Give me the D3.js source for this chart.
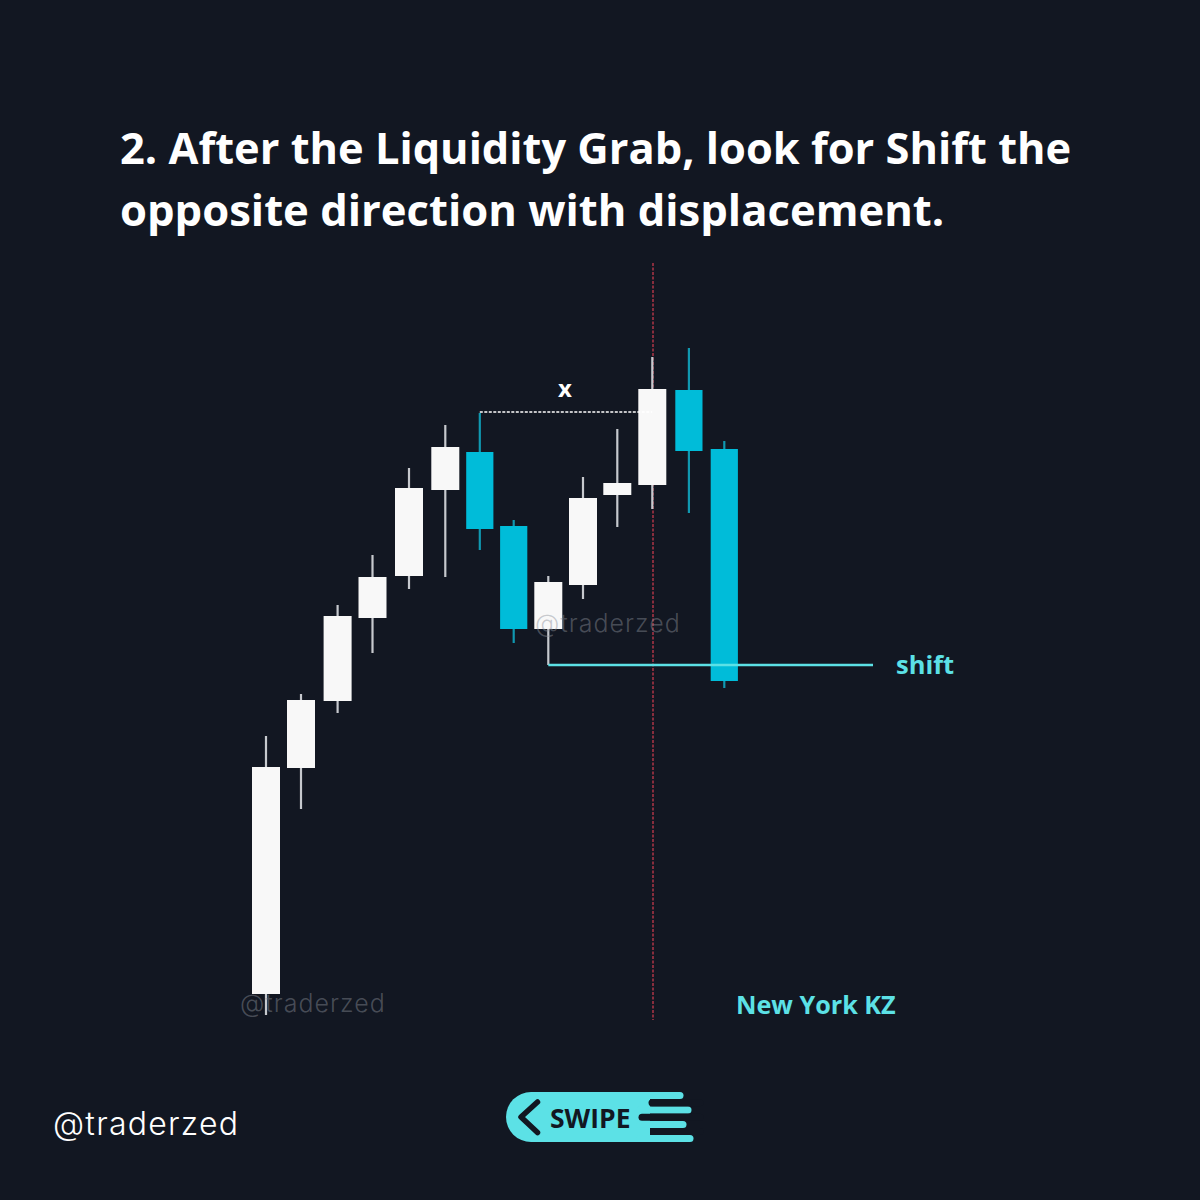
<!DOCTYPE html>
<html>
<head>
<meta charset="utf-8">
<script src="https://cdn.jsdelivr.net/npm/d3@7"></script>
<style>
  html, body { margin: 0; padding: 0; background: #121722; }
  svg { display: block; }
</style>
</head>
<body>
<svg id="chart" width="1200" height="1200"></svg>
<script>
// Candles, price units run upward from the bottom of the chart area
const sessions = [266, 301, 337.6, 372.5, 409, 445.3, 479.8, 513.7, 548.3, 583, 617.3, 652.3, 688.9, 724.3];
const highs  = [284, 326, 415, 465, 552, 595, 607, 500, 444, 543, 591, 663, 672, 579];
const opens  = [26, 252, 319, 402, 444, 530, 568, 494, 391, 435, 525, 535, 630, 571];
const closes = [253, 320, 404, 443, 532, 573, 491, 391, 438, 522, 537, 631, 569, 339];
const lows   = [5, 211, 307, 367, 431, 443, 470, 377, 355, 421, 493, 511, 507, 332];

const titleLines = ['2. After the Liquidity Grab, look for Shift the', 'opposite direction with displacement.'];
const sweepLevel = 608;
const shiftLevel = 355;
const shiftEnd = 873;
const killzoneTime = 653;

const bg = '#121722';
const cyan = '#5ce1e6';
const font = '"Open Sans", "Noto Sans", sans-serif';

const svg = d3.select('#chart');
svg.append('rect').attr('width', 1200).attr('height', 1200).attr('fill', bg);

const x = d3.scaleLinear().domain([0, 1200]).range([0, 1200]);
const y = d3.scaleLinear().domain([0, 760]).range([1020, 260]);

const candles = sessions.map((t, i) => ({ t, high: highs[i], open: opens[i], close: closes[i], low: lows[i] }));

// title
svg.append('g').selectAll('text')
  .data(titleLines)
  .enter()
  .append('text')
  .attr('x', 120)
  .attr('y', (d, i) => 164 + i * 62)
  .attr('fill', '#ffffff')
  .attr('font-family', font)
  .attr('font-weight', 700)
  .attr('font-size', (d, i) => i === 0 ? 43.4 : 43.6)
  .text(d => d);

// killzone divider
svg.append('line')
  .attr('x1', x(killzoneTime)).attr('x2', x(killzoneTime))
  .attr('y1', y(757)).attr('y2', y(0))
  .attr('stroke', '#d63c50')
  .attr('stroke-width', 1.2)
  .attr('stroke-dasharray', '3 1.5');

// candles
const g = svg.append('g');
g.selectAll('.wick')
  .data(candles)
  .enter()
  .append('line')
  .attr('class', 'wick')
  .attr('x1', d => x(d.t)).attr('x2', d => x(d.t))
  .attr('y1', d => y(d.high)).attr('y2', d => y(d.low))
  .attr('stroke', d => d.close >= d.open ? '#c6c9ce' : '#1098b0')
  .attr('stroke-width', 2.2);

g.selectAll('.body')
  .data(candles)
  .enter()
  .append('rect')
  .attr('class', 'body')
  .attr('x', d => x(d.t) - (d.close >= d.open ? 14 : 13.6))
  .attr('width', d => d.close >= d.open ? 28 : 27.2)
  .attr('y', d => y(Math.max(d.open, d.close)))
  .attr('height', d => y(Math.min(d.open, d.close)) - y(Math.max(d.open, d.close)))
  .attr('fill', d => d.close >= d.open ? '#f8f8f8' : '#00bcd9');

// liquidity level
svg.append('line')
  .attr('x1', x(sessions[6])).attr('x2', x(sessions[11]))
  .attr('y1', y(sweepLevel)).attr('y2', y(sweepLevel))
  .attr('stroke', '#ffffff')
  .attr('stroke-width', 1.3)
  .attr('stroke-dasharray', '3 1.5');

svg.append('text')
  .attr('x', 565).attr('y', 397)
  .attr('text-anchor', 'middle')
  .attr('fill', '#ffffff')
  .attr('font-family', font)
  .attr('font-weight', 700)
  .attr('font-size', 24)
  .text('x');

// shift level
svg.append('line')
  .attr('x1', x(sessions[8])).attr('x2', x(shiftEnd))
  .attr('y1', y(shiftLevel)).attr('y2', y(shiftLevel))
  .attr('stroke', cyan)
  .attr('stroke-width', 2.4);

svg.append('text')
  .attr('x', 896).attr('y', 674)
  .attr('fill', cyan)
  .attr('font-family', font)
  .attr('font-weight', 700)
  .attr('font-size', 25.5)
  .text('shift');

svg.append('text')
  .attr('x', 736).attr('y', 1014)
  .attr('fill', cyan)
  .attr('font-family', font)
  .attr('font-weight', 700)
  .attr('font-size', 25.2)
  .text('New York KZ');

// watermarks
svg.append('g').selectAll('text')
  .data([[240, 1012], [535, 632]])
  .enter()
  .append('text')
  .attr('x', d => d[0])
  .attr('y', d => d[1])
  .attr('fill', '#8b8f98')
  .attr('fill-opacity', 0.45)
  .attr('font-family', 'Inter, sans-serif')
  .attr('font-weight', 300)
  .attr('font-size', 25)
  .attr('letter-spacing', 1)
  .text('@traderzed');

svg.append('text')
  .attr('x', 53).attr('y', 1135)
  .attr('fill', '#ffffff')
  .attr('font-family', 'Inter, sans-serif')
  .attr('font-weight', 300)
  .attr('font-size', 32)
  .attr('letter-spacing', 1.25)
  .text('@traderzed');

// swipe badge
const badge = svg.append('g');
badge.append('path')
  .attr('d', 'M531 1092H650V1142H531a25 25 0 0 1 0-50Z')
  .attr('fill', cyan);
[[1095.6, 680], [1110, 688], [1124.5, 683], [1138.6, 690]].forEach(d => {
  badge.append('line')
    .attr('x1', 640).attr('x2', d[1])
    .attr('y1', d[0]).attr('y2', d[0])
    .attr('stroke', cyan).attr('stroke-width', 7).attr('stroke-linecap', 'round');
});
[[652, 1102.7], [642, 1117.3], [654, 1131.6]].forEach(d => {
  badge.append('line')
    .attr('x1', d[0]).attr('x2', 700)
    .attr('y1', d[1]).attr('y2', d[1])
    .attr('stroke', bg).attr('stroke-width', 7).attr('stroke-linecap', 'round');
});
badge.append('polyline')
  .attr('points', '537.5,1102 521,1117 537.5,1132.5')
  .attr('fill', 'none')
  .attr('stroke', bg)
  .attr('stroke-width', 5.5)
  .attr('stroke-linecap', 'round')
  .attr('stroke-linejoin', 'round');
badge.append('text')
  .attr('x', 550).attr('y', 1127.5)
  .attr('fill', bg)
  .attr('font-family', font)
  .attr('font-weight', 700)
  .attr('font-size', 26.5)
  .text('SWIPE');
</script>
</body>
</html>
